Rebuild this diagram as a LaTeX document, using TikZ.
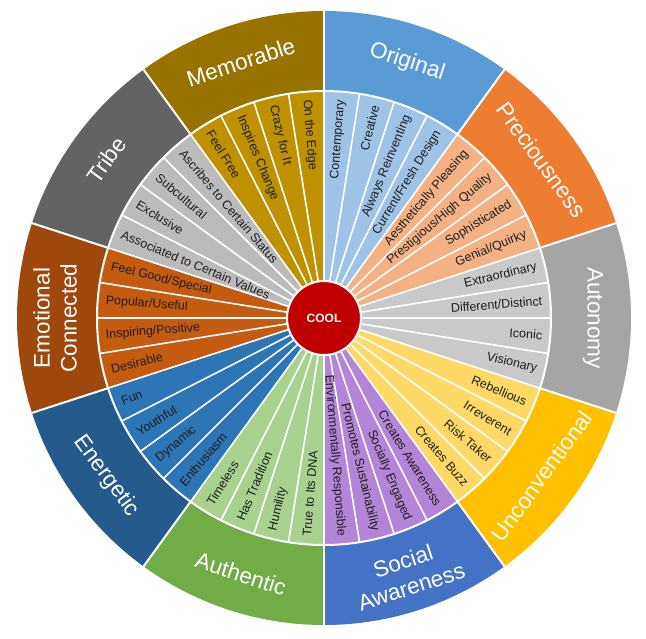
\documentclass[tikz,border=0pt]{standalone}
\usepackage{fontspec}
\setmainfont{Liberation Sans}
\definecolor{origOut}{HTML}{5B9BD5}
\definecolor{origIn}{HTML}{9DC3E6}
\definecolor{precOut}{HTML}{ED7D31}
\definecolor{precIn}{HTML}{F4B183}
\definecolor{autoOut}{HTML}{A5A5A5}
\definecolor{autoIn}{HTML}{C9C9C9}
\definecolor{uncoOut}{HTML}{FFC000}
\definecolor{uncoIn}{HTML}{FFD966}
\definecolor{sociOut}{HTML}{4472C4}
\definecolor{sociIn}{HTML}{B385D8}
\definecolor{authOut}{HTML}{70AD47}
\definecolor{authIn}{HTML}{A9D18E}
\definecolor{enerOut}{HTML}{245A8C}
\definecolor{enerIn}{HTML}{2E75B6}
\definecolor{emotOut}{HTML}{9E480E}
\definecolor{emotIn}{HTML}{C55A11}
\definecolor{tribOut}{HTML}{636363}
\definecolor{tribIn}{HTML}{BBBBBB}
\definecolor{memoOut}{HTML}{997300}
\definecolor{memoIn}{HTML}{BF9000}
\definecolor{coolRed}{HTML}{C00000}
\tikzset{
	catlabel/.style={text=white, align=center, inner sep=0pt, font=\fontsize{22.5}{27}\selectfont},
	sublabel/.style={text=black!88, inner sep=0pt, font=\fontsize{12.5}{14}\selectfont},
}
\begin{document}
\begin{tikzpicture}[x=1pt,y=1pt,declare function={r_m=227; r_o=307;}]
	\useasboundingbox (-324,-320) rectangle (322,318);
	% Rings, clockwise from the top
	\foreach \cout/\cin/\name [count=\i from 0] in {origOut/origIn/Original, precOut/precIn/Preciousness, autoOut/autoIn/Autonomy, uncoOut/uncoIn/Unconventional, sociOut/sociIn/{Social\\Awareness}, authOut/authIn/Authentic, enerOut/enerIn/Energetic, emotOut/emotIn/{Emotional\\Connected}, tribOut/tribIn/Tribe, memoOut/memoIn/Memorable}
	{
		\pgfmathsetmacro\a{90-36*\i}
		\pgfmathsetmacro\b{\a-36}
		\fill[\cin] (0,0) -- (\a:r_m) arc[start angle=\a, end angle=\b, radius=r_m] -- cycle;
		\fill[\cout] (\a:r_m) arc[start angle=\a, end angle=\b, radius=r_m] -- (\b:r_o) arc[start angle=\b, end angle=\a, radius=r_o] -- cycle;
		\pgfmathsetmacro\c{\a-18}
		\pgfmathsetmacro\rot{sin(\c)>-0.01 ? \c-90 : \c+90}
		\node[catlabel, rotate=\rot] (cat\i) at (\c:{(r_m+r_o)/2+2}) {\name};
	}
	% White dividers
	\foreach \k in {0,...,39}
	{\draw[white, line width=1.6pt] (0,0) -- ({90-9*\k}:r_m);}
	\foreach \i in {0,...,9}
	{\draw[white, line width=2pt] ({90-36*\i}:r_m) -- ({90-36*\i}:r_o);}
	\draw[white, line width=2pt] (0,0) circle[radius=r_m];
	% Inner labels
	\foreach \t [count=\k from 0] in {Contemporary, Creative, Always Reinventing, Current/Fresh Design, Aesthetically Pleasing, Prestigious/High Quality, Sophisticated, Genial/Quirky, Extraordinary, Different/Distinct, Iconic, Visionary, Rebellious, Irreverent, Risk Taker, Creates Buzz, Creates Awareness, Socially Engaged, Promotes Sustainability, Environmentally Responsible, True to Its DNA, Humility, Has Tradition, Timeless, Enthusiasm, Dynamic, Youthful, Fun, Desirable, Inspiring/Positive, Popular/Useful, Feel Good/Special, Associated to Certain Values, Exclusive, Subcultural, Ascribes to Certain Status, Feel Free, Inspires Change, Crazy for It, On the Edge}
	{
		\pgfmathsetmacro\m{85.5-9*\k}
		\pgfmathtruncatemacro\flip{cos(\m)<0}
		\ifnum\flip=1
			\node[sublabel, rotate=\m+180, anchor=west] (sub\k) at (\m:219) {\t};
		\else
			\node[sublabel, rotate=\m, anchor=east] (sub\k) at (\m:219) {\t};
		\fi
	}
	% Centre
	\node[circle, fill=coolRed, draw=white, line width=2pt, minimum size=74pt, text=white, font=\bfseries\fontsize{12}{14}\selectfont] (cool) at (0,0) {COOL};
\end{tikzpicture}
\end{document}
